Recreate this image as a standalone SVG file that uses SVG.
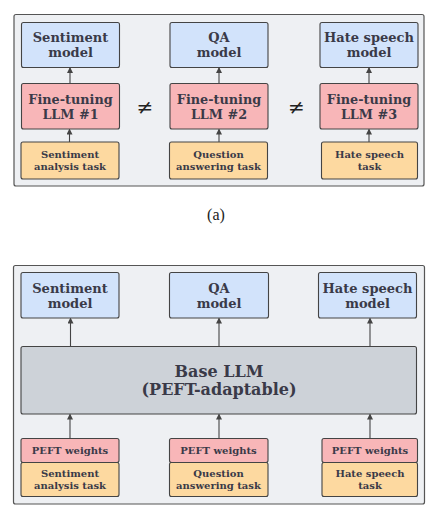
<svg xmlns="http://www.w3.org/2000/svg" width="432" height="517" viewBox="0 0 432 517">
<style>
.frame{fill:#eef0f3;stroke:#555;stroke-width:1.2}
.b{stroke:#444;stroke-width:1.1}
.blue{fill:#d2e3fb}
.red{fill:#f8b6b8}
.org{fill:#fdd9a0}
.gray{fill:#cdd2d8}
text{font-family:"DejaVu Serif",serif;font-weight:bold;fill:#3a3a48;text-anchor:middle}
.t13{font-size:13px}
.t14{font-size:12.8px}
.t10{font-size:10px}
.t17{font-size:16px}
.neq{font-family:"DejaVu Serif",serif;font-weight:normal;font-size:20px;fill:#222}
.conn line{stroke:#444;stroke-width:1.1;marker-end:url(#ah)}
</style>
<defs>
<marker id="ah" viewBox="0 0 6 6" refX="5" refY="3" markerWidth="6" markerHeight="6" markerUnits="userSpaceOnUse" orient="auto">
<path d="M0,0 L6,3 L0,6 z" fill="#444"/>
</marker>
</defs>
<rect width="432" height="517" fill="#ffffff"/>
<!-- Panel (a) -->
<rect class="frame" x="14" y="14.5" width="410" height="171.5" rx="2"/>
<g id="sentiment-model-a"><rect class="b blue" x="21.5" y="22.5" width="98" height="45" rx="2"/><text class="t13" x="70.5" y="42">Sentiment</text><text class="t13" x="70.5" y="57">model</text></g>
<g id="qa-model-a"><rect class="b blue" x="170" y="22.5" width="98" height="45" rx="2"/><text class="t13" x="219" y="42">QA</text><text class="t13" x="219" y="57">model</text></g>
<g id="hate-model-a"><rect class="b blue" x="320" y="22.5" width="98" height="45" rx="2"/><text class="t13" x="369" y="42">Hate speech</text><text class="t13" x="369" y="57">model</text></g>
<g id="ft1"><rect class="b red" x="21.5" y="83.5" width="98" height="45.5" rx="2"/><text class="t14" x="70.5" y="103.5">Fine-tuning</text><text class="t14" x="70.5" y="118.5">LLM #1</text></g>
<g id="ft2"><rect class="b red" x="170" y="83.5" width="98" height="45.5" rx="2"/><text class="t14" x="219" y="103.5">Fine-tuning</text><text class="t14" x="219" y="118.5">LLM #2</text></g>
<g id="ft3"><rect class="b red" x="320" y="83.5" width="98" height="45.5" rx="2"/><text class="t14" x="369" y="103.5">Fine-tuning</text><text class="t14" x="369" y="118.5">LLM #3</text></g>
<g id="task1-a"><rect class="b org" x="21" y="142" width="98" height="37" rx="2"/><text class="t10" x="70" y="158">Sentiment</text><text class="t10" x="70" y="169.5">analysis task</text></g>
<g id="task2-a"><rect class="b org" x="169.5" y="142" width="98" height="37" rx="2"/><text class="t10" x="218.5" y="158">Question</text><text class="t10" x="218.5" y="169.5">answering task</text></g>
<g id="task3-a"><rect class="b org" x="321.5" y="142" width="96" height="37" rx="2"/><text class="t10" x="369.5" y="158">Hate speech</text><text class="t10" x="369.5" y="169.5">task</text></g>
<g id="neq1"><text class="neq" x="145" y="113.5">≠</text></g>
<g id="neq2"><text class="neq" x="296.5" y="113.5">≠</text></g>
<g id="conn-a" class="conn">
<line x1="69.5" y1="142" x2="69.5" y2="129.5"/>
<line x1="70" y1="83.5" x2="70" y2="68"/>
<line x1="219" y1="142" x2="219" y2="129.5"/>
<line x1="219" y1="83.5" x2="219" y2="68"/>
<line x1="369" y1="142" x2="369" y2="129.5"/>
<line x1="369" y1="83.5" x2="369" y2="68"/>
</g>
<text x="216" y="220" style="font-family:'Liberation Serif',serif;font-weight:normal;font-size:16px;fill:#222">(a)</text>
<!-- Panel (b) -->
<rect class="frame" x="13.5" y="265.5" width="411" height="238.5" rx="2"/>
<g id="sentiment-model-b"><rect class="b blue" x="21" y="272.5" width="98" height="45.5" rx="2"/><text class="t13" x="70" y="292.5">Sentiment</text><text class="t13" x="70" y="307.5">model</text></g>
<g id="qa-model-b"><rect class="b blue" x="169.5" y="272.5" width="99" height="45.5" rx="2"/><text class="t13" x="219" y="292.5">QA</text><text class="t13" x="219" y="307.5">model</text></g>
<g id="hate-model-b"><rect class="b blue" x="318.5" y="272.5" width="98" height="45.5" rx="2"/><text class="t13" x="367.5" y="292.5">Hate speech</text><text class="t13" x="367.5" y="307.5">model</text></g>
<g id="base-llm"><rect class="b gray" x="21" y="346.5" width="395.5" height="67.5" rx="2"/><text class="t17" x="219" y="376.5">Base LLM</text><text class="t17" x="219" y="395">(PEFT-adaptable)</text></g>
<g id="peft1"><rect class="b red" x="21" y="438.5" width="98" height="24" rx="2"/><text class="t10" x="70" y="453.5">PEFT weights</text></g>
<g id="peft2"><rect class="b red" x="169.5" y="438.5" width="98.5" height="24" rx="2"/><text class="t10" x="218.5" y="453.5">PEFT weights</text></g>
<g id="peft3"><rect class="b red" x="322" y="438.5" width="95.5" height="24" rx="2"/><text class="t10" x="370" y="453.5">PEFT weights</text></g>
<g id="task1-b"><rect class="b org" x="21" y="462.5" width="98" height="34" rx="2"/><text class="t10" x="70" y="476.5">Sentiment</text><text class="t10" x="70" y="488.5">analysis task</text></g>
<g id="task2-b"><rect class="b org" x="169.5" y="462.5" width="98.5" height="34" rx="2"/><text class="t10" x="218.5" y="476.5">Question</text><text class="t10" x="218.5" y="488.5">answering task</text></g>
<g id="task3-b"><rect class="b org" x="322" y="462.5" width="95.5" height="34" rx="2"/><text class="t10" x="370" y="476.5">Hate speech</text><text class="t10" x="370" y="488.5">task</text></g>
<g id="conn-b" class="conn">
<line x1="70.5" y1="346.5" x2="70.5" y2="318.5"/>
<line x1="219" y1="346.5" x2="219" y2="318.5"/>
<line x1="370" y1="346.5" x2="370" y2="318.5"/>
<line x1="70" y1="438.5" x2="70" y2="414.5"/>
<line x1="219" y1="438.5" x2="219" y2="414.5"/>
<line x1="370" y1="438.5" x2="370" y2="414.5"/>
</g>
</svg>
